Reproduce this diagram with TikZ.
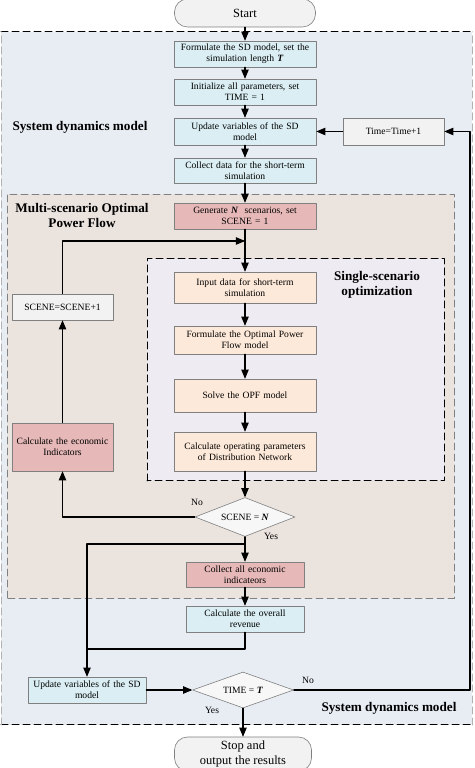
\documentclass[tikz,border=0pt]{standalone}
\usepackage{fontspec}
\setmainfont{Liberation Serif}
\usepackage{tikz}
\usetikzlibrary{arrows,shapes.geometric}
\definecolor{sdback}{HTML}{E8EDF4}
\definecolor{msback}{HTML}{EAE3DE}
\definecolor{ssback}{HTML}{EEEBF2}
\definecolor{sdblue}{HTML}{DAEEF3}
\definecolor{opfpeach}{HTML}{FDE9D9}
\definecolor{ecored}{HTML}{E6B9B8}
\definecolor{lightgr}{HTML}{F2F2F2}
\begin{document}
\begin{tikzpicture}[line cap=round,line join=round,>=triangle 45,x=1pt,y=1pt,
  box/.style={draw=gray,line width=0.6pt,align=center,inner sep=1pt,
    font=\fontsize{9.6}{11}\selectfont},
  bluebox/.style={box,fill=sdblue},
  peachbox/.style={box,fill=opfpeach},
  redbox/.style={box,fill=ecored},
  graybox/.style={box,fill=lightgr},
  decision/.style={draw=gray,line width=0.6pt,fill=lightgr!60,diamond,aspect=2.6,
    inner sep=0pt,font=\fontsize{9.6}{11}\selectfont},
  terminal/.style={draw=gray,line width=0.6pt,fill=lightgr,rounded corners=13pt,
    align=center,inner sep=1pt,font=\fontsize{12.5}{14.5}\selectfont},
  region/.style={font=\bfseries\fontsize{13.2}{15}\selectfont,align=center},
  yesno/.style={font=\fontsize{9.6}{11}\selectfont},
  flow/.style={->,line width=1.1pt}]
\useasboundingbox (0,0) rectangle (474,768);
% regions
\fill[sdback] (1,43) rectangle (472,736);
\draw[line width=1pt,dash pattern=on 7pt off 4pt] (1,736) -- (472,736);
\draw[line width=1pt,dash pattern=on 7pt off 4pt] (1,43) -- (472,43);
\draw[gray!60,line width=1pt,dash pattern=on 7pt off 4pt] (1,43) -- (1,736);
\draw[gray!60,line width=1pt,dash pattern=on 7pt off 4pt] (472,43) -- (472,736);
\draw[gray,fill=msback,line width=0.8pt,dash pattern=on 7pt off 4pt] (7,170) rectangle (454,574);
\draw[fill=ssback,line width=1pt,dash pattern=on 7pt off 4pt] (147,287) rectangle (444,509);
% nodes
\node[terminal,minimum width=141pt,minimum height=28pt] (start) at (245,755) {Start};
\node[bluebox,text width=140pt,minimum height=26pt] (f1) at (245,714)
  {Formulate the SD model, set the\\ simulation length \textbf{\textit{T}}};
\node[bluebox,text width=140pt,minimum height=26pt] (f2) at (245,676)
  {Initialize all parameters, set\\ TIME = 1};
\node[bluebox,text width=140pt,minimum height=27pt] (f3) at (245,636.5)
  {Update variables of the SD\\ model};
\node[graybox,text width=99pt,minimum height=27pt] (tim) at (393.5,636.5) {Time=Time+1};
\node[bluebox,text width=140pt,minimum height=25pt] (f4) at (245,597.5)
  {Collect data for the short-term\\ simulation};
\node[redbox,text width=140pt,minimum height=26pt] (gen) at (245,552)
  {Generate \textbf{\textit{N}}\ \ scenarios, set\\ SCENE = 1};
\node[peachbox,text width=140pt,minimum height=31pt] (inp) at (245,480.5)
  {Input data for short-term\\ simulation};
\node[peachbox,text width=140pt,minimum height=28pt] (opf) at (245,428)
  {Formulate the Optimal Power\\ Flow model};
\node[peachbox,text width=140pt,minimum height=33pt] (sol) at (245,372.5)
  {Solve the OPF model};
\node[peachbox,text width=140pt,minimum height=39pt] (cal) at (245,316.5)
  {Calculate operating parameters\\ of Distribution Network};
\node[graybox,text width=99pt,minimum height=26pt] (scn) at (62.5,461) {SCENE=SCENE+1};
\node[redbox,text width=99pt,minimum height=48pt] (eco) at (62.5,321)
  {Calculate the economic\\ Indicators};
\node[decision,minimum width=100pt,minimum height=39pt] (dsc) at (245,251)
  {SCENE = \textbf{\textit{N}}};
\node[redbox,text width=116pt,minimum height=25pt] (col) at (245,193.5)
  {Collect all economic\\ indicateors};
\node[bluebox,text width=116pt,minimum height=26pt] (rev) at (245,149)
  {Calculate the overall\\ revenue};
\node[bluebox,text width=116pt,minimum height=26pt] (upd) at (87,78)
  {Update variables of the SD\\ model};
\node[decision,minimum width=101pt,minimum height=36pt] (dti) at (243,78)
  {TIME = \textbf{\textit{T}}};
\node[terminal,minimum width=137pt,minimum height=34pt] (stop) at (243,14)
  {Stop and\\ output the results};
% labels
\node[region] (sdtop) at (80,641) {System dynamics model};
\node[region] (sdbot) at (389,60) {System dynamics model};
\node[region] (msopf) at (82,553) {Multi-scenario Optimal\\ Power Flow};
\node[region] (ssopt) at (377,483.5) {Single-scenario\\ optimization};
\node[yesno] (no1) at (197,266) {No};
\node[yesno] (yes1) at (271,232) {Yes};
\node[yesno] (no2) at (308,88) {No};
\node[yesno] (yes2) at (212,58) {Yes};
% junctions
\coordinate (jin) at (245,527);
\coordinate (jyes) at (245,224);
\coordinate (jrev) at (87,119);
\coordinate (cr) at (470,78);
% connectors
\draw[flow] (start) -- (f1);
\draw[flow] (f1) -- (f2);
\draw[flow] (f2) -- (f3);
\draw[flow] (f3) -- (f4);
\draw[flow] (tim) -- (f3);
\draw[flow] (f4) -- (gen);
\draw[flow] (gen) -- (inp);
\draw[flow] (inp) -- (opf);
\draw[flow] (opf) -- (sol);
\draw[flow] (sol) -- (cal);
\draw[flow] (cal) -- (dsc);
\draw[flow] (dsc.west) -| (eco.south);
\draw[flow] (eco) -- (scn);
\draw[flow] (scn.north) |- (jin);
\draw[flow] (dsc) -- (col);
\draw[flow] (jyes) -| (upd.north);
\draw[flow] (col) -- (rev);
\draw[line width=1.1pt] (rev.south) |- (jrev);
\draw[flow] (upd) -- (dti);
\draw[flow] (dti.east) -- (cr) |- (tim.east);
\draw[flow] (dti) -- (stop);
\end{tikzpicture}
\end{document}
